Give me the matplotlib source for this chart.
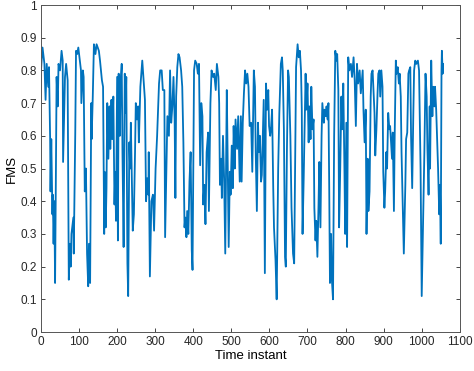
import matplotlib
matplotlib.use('Agg')
import matplotlib.pyplot as plt

# turning points (time instant, FMS)
time_instant = [
    0, 4, 9, 12, 15, 19, 21, 24, 25, 27, 30, 31, 33, 35, 37, 41, 44, 46, 50, 54,
    57, 58, 63, 66, 70, 73, 76, 78, 80, 83, 85, 86, 90, 92, 95, 98, 102, 105, 106, 110,
    112, 115, 118, 121, 124, 126, 129, 132, 133, 136, 139, 143, 146, 152, 155, 160, 163, 166, 167, 170,
    172, 174, 177, 180, 182, 185, 187, 190, 193, 195, 197, 200, 202, 204, 207, 209, 212, 214, 217, 220,
    222, 224, 227, 229, 232, 234, 236, 239, 241, 244, 247, 249, 252, 255, 257, 261, 266, 269, 273, 276,
    279, 282, 283, 286, 290, 294, 297, 301, 305, 310, 313, 317, 320, 324, 326, 332, 336, 339, 342, 345,
    348, 351, 353, 355, 358, 361, 364, 368, 371, 374, 377, 379, 382, 384, 387, 390, 393, 396, 398, 402,
    405, 409, 412, 415, 418, 421, 424, 426, 429, 432, 435, 439, 441, 445, 448, 452, 455, 459, 462, 466,
    468, 470, 473, 475, 478, 481, 484, 488, 490, 493, 496, 498, 501, 504, 506, 509, 511, 515, 518, 522,
    525, 527, 530, 533, 536, 539, 542, 545, 548, 552, 555, 559, 562, 564, 567, 570, 572, 575, 578, 580,
    583, 585, 588, 591, 594, 597, 599, 602, 604, 607, 610, 612, 616, 619, 623, 626, 630, 633, 635, 638,
    641, 643, 646, 649, 651, 655, 658, 662, 665, 668, 670, 674, 677, 680, 683, 685, 687, 690, 692, 695,
    697, 700, 703, 705, 708, 710, 713, 716, 718, 721, 723, 726, 729, 731, 734, 737, 739, 743, 745, 748,
    750, 753, 755, 757, 759, 762, 764, 767, 770, 773, 776, 778, 781, 783, 786, 789, 791, 794, 797, 799,
    802, 804, 807, 810, 814, 817, 821, 824, 827, 830, 833, 837, 840, 843, 845, 847, 850, 853, 855, 858,
    860, 863, 866, 868, 871, 873, 876, 878, 881, 884, 886, 889, 891, 894, 897, 899, 902, 904, 907, 909,
    912, 915, 917, 920, 922, 924, 927, 929, 932, 934, 937, 940, 942, 945, 947, 950, 953, 957, 959, 962,
    965, 967, 970, 972, 975, 978, 980, 983, 986, 990, 993, 997, 1000, 1003, 1007, 1010, 1013, 1015, 1018, 1021,
    1022, 1025, 1028, 1030, 1033, 1035, 1038, 1043, 1046, 1048, 1050, 1052, 1053, 1055, 1056,
]
fms = [
    0.80, 0.87, 0.82, 0.71, 0.82, 0.75, 0.81, 0.59, 0.43, 0.59, 0.36, 0.42, 0.27, 0.40, 0.15, 0.78, 0.69, 0.82, 0.80, 0.86,
    0.83, 0.52, 0.78, 0.82, 0.77, 0.16, 0.27, 0.20, 0.30, 0.33, 0.35, 0.24, 0.61, 0.86, 0.85, 0.87, 0.83, 0.80, 0.70, 0.80,
    0.78, 0.43, 0.50, 0.24, 0.14, 0.27, 0.15, 0.70, 0.59, 0.72, 0.88, 0.85, 0.88, 0.86, 0.83, 0.77, 0.75, 0.30, 0.49, 0.32,
    0.44, 0.70, 0.53, 0.69, 0.56, 0.71, 0.59, 0.72, 0.39, 0.49, 0.34, 0.78, 0.28, 0.79, 0.60, 0.76, 0.82, 0.55, 0.26, 0.79,
    0.67, 0.78, 0.21, 0.11, 0.58, 0.50, 0.64, 0.45, 0.31, 0.36, 0.55, 0.70, 0.65, 0.69, 0.58, 0.75, 0.83, 0.78, 0.71, 0.40,
    0.47, 0.42, 0.55, 0.17, 0.40, 0.42, 0.31, 0.50, 0.60, 0.76, 0.80, 0.80, 0.74, 0.74, 0.29, 0.66, 0.60, 0.80, 0.64, 0.69,
    0.78, 0.65, 0.41, 0.72, 0.81, 0.85, 0.84, 0.80, 0.75, 0.58, 0.32, 0.35, 0.29, 0.37, 0.30, 0.46, 0.55, 0.25, 0.19, 0.80,
    0.83, 0.82, 0.79, 0.82, 0.51, 0.70, 0.66, 0.39, 0.45, 0.33, 0.55, 0.61, 0.37, 0.70, 0.80, 0.78, 0.79, 0.74, 0.82, 0.78,
    0.70, 0.45, 0.53, 0.41, 0.60, 0.47, 0.24, 0.74, 0.56, 0.26, 0.49, 0.42, 0.57, 0.44, 0.63, 0.50, 0.65, 0.56, 0.66, 0.46,
    0.66, 0.46, 0.64, 0.73, 0.80, 0.76, 0.79, 0.75, 0.63, 0.64, 0.49, 0.80, 0.75, 0.55, 0.37, 0.64, 0.55, 0.60, 0.46, 0.48,
    0.62, 0.71, 0.18, 0.76, 0.68, 0.74, 0.63, 0.60, 0.62, 0.68, 0.44, 0.32, 0.22, 0.10, 0.50, 0.67, 0.82, 0.84, 0.80, 0.62,
    0.23, 0.20, 0.56, 0.80, 0.78, 0.60, 0.38, 0.24, 0.21, 0.56, 0.81, 0.88, 0.84, 0.86, 0.80, 0.68, 0.30, 0.47, 0.60, 0.79,
    0.68, 0.76, 0.58, 0.69, 0.59, 0.75, 0.62, 0.65, 0.38, 0.28, 0.34, 0.23, 0.39, 0.52, 0.32, 0.60, 0.70, 0.64, 0.68, 0.66,
    0.69, 0.65, 0.70, 0.45, 0.15, 0.30, 0.16, 0.10, 0.60, 0.86, 0.83, 0.85, 0.74, 0.32, 0.50, 0.72, 0.62, 0.76, 0.50, 0.30,
    0.64, 0.26, 0.84, 0.80, 0.82, 0.78, 0.84, 0.77, 0.63, 0.82, 0.76, 0.80, 0.73, 0.77, 0.80, 0.68, 0.58, 0.68, 0.30, 0.53,
    0.37, 0.43, 0.72, 0.79, 0.80, 0.75, 0.67, 0.54, 0.62, 0.73, 0.79, 0.80, 0.72, 0.80, 0.75, 0.49, 0.38, 0.43, 0.55, 0.50,
    0.67, 0.62, 0.63, 0.57, 0.53, 0.61, 0.37, 0.60, 0.83, 0.79, 0.81, 0.76, 0.79, 0.72, 0.55, 0.40, 0.24, 0.45, 0.59, 0.61,
    0.79, 0.80, 0.81, 0.60, 0.44, 0.67, 0.80, 0.83, 0.82, 0.83, 0.80, 0.50, 0.11, 0.30, 0.55, 0.79, 0.72, 0.56, 0.42, 0.69,
    0.50, 0.83, 0.66, 0.75, 0.69, 0.75, 0.68, 0.50, 0.36, 0.45, 0.27, 0.80, 0.86, 0.79, 0.82,
]

x_ticks = list(range(0, 1101, 100))
y_ticks = [0, 0.1, 0.2, 0.3, 0.4, 0.5, 0.6, 0.7, 0.8, 0.9, 1]
y_tick_labels = ['0', '0.1', '0.2', '0.3', '0.4', '0.5', '0.6', '0.7', '0.8', '0.9', '1']

plt.rcParams['font.family'] = ['Liberation Sans', 'DejaVu Sans']

fig = plt.figure(figsize=(4.74, 3.71), dpi=100)
ax = fig.add_axes([0.0865, 0.105, 0.8835, 0.8815])
ax.plot(time_instant, fms, color='#0072BD', linewidth=1.3)

ax.set_xlim(0, 1100)
ax.set_ylim(0, 1)
ax.set_xticks(x_ticks)
ax.set_yticks(y_ticks)
ax.set_yticklabels(y_tick_labels)
ax.tick_params(direction='in', top=True, right=True, length=3, width=0.6,
               labelsize=8.5, colors='#262626', pad=3)
for spine in ax.spines.values():
    spine.set_color('#555555')
    spine.set_linewidth(0.7)
ax.set_xlabel('Time instant', fontsize=9.5, labelpad=1)
ax.set_ylabel('FMS', fontsize=9.5, labelpad=2)

fig.savefig('out.png', dpi=100)
